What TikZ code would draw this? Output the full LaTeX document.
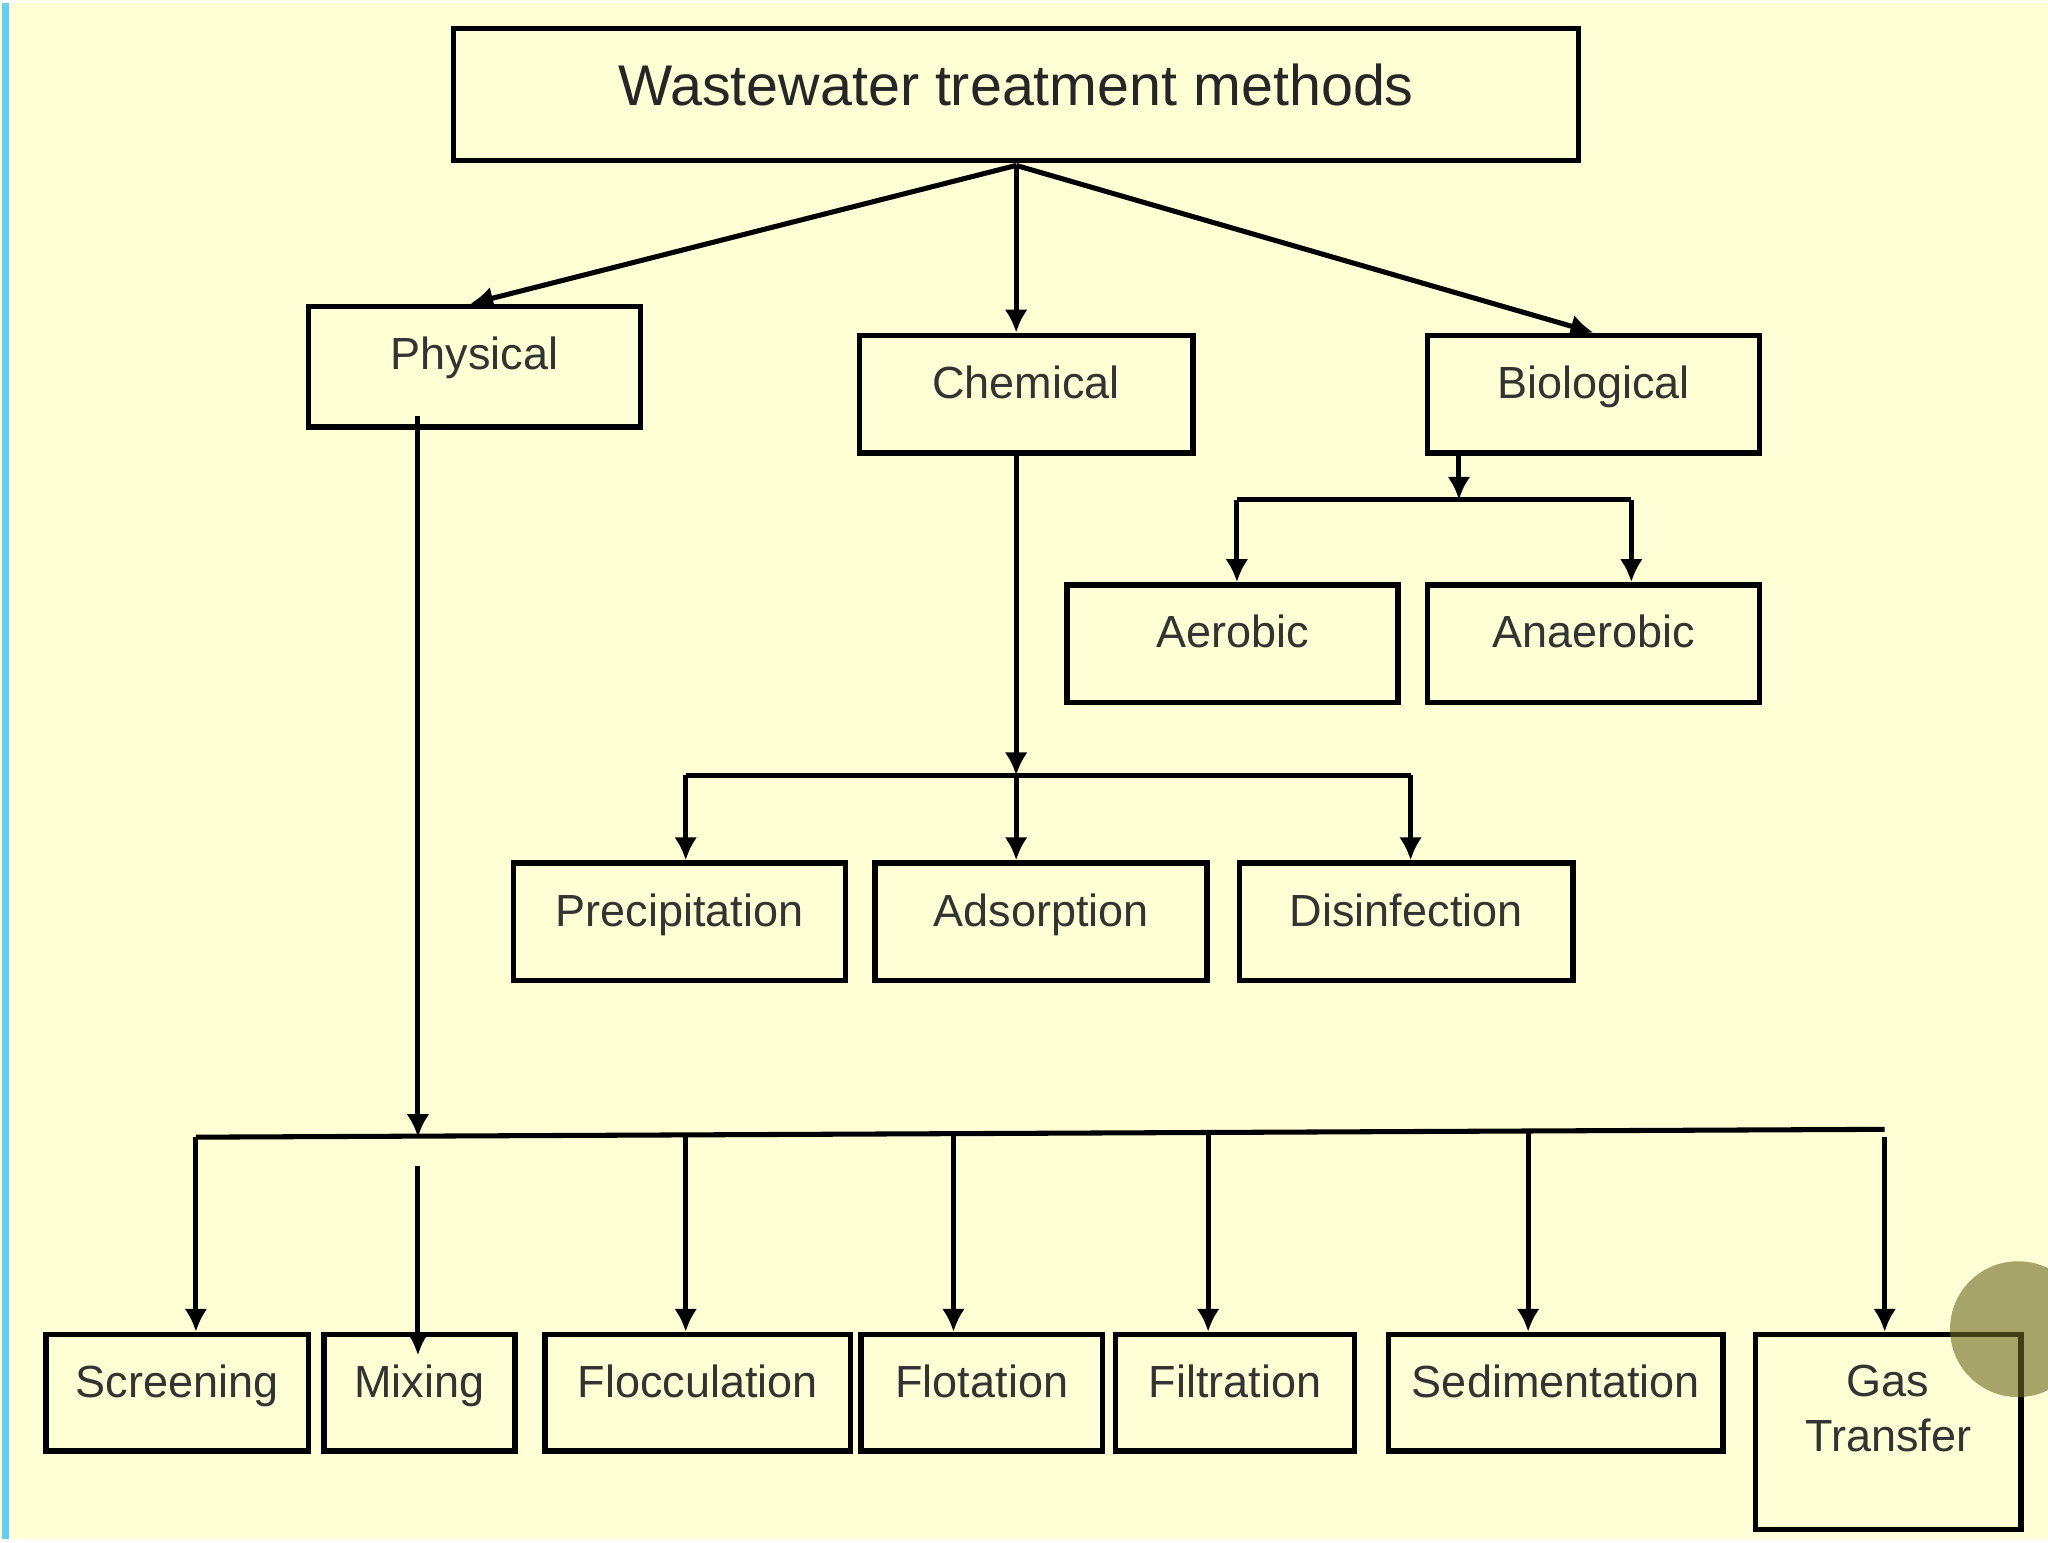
\documentclass[tikz,border=0pt]{standalone}
\usepackage{fontspec}
\setmainfont{Liberation Sans}
\usetikzlibrary{arrows.meta}
\definecolor{bgyel}{HTML}{FFFFD6}
\definecolor{txt}{HTML}{333333}
\begin{document}
\begin{tikzpicture}[x=0.01cm,y=-0.01cm,
  box/.style={draw,line width=1.2pt,anchor=north west,inner sep=0pt},
  lbl/.style={anchor=north,yshift=-0.13cm,text=txt,font=\fontsize{9.8}{12}\selectfont,align=center},
  arr/.style={line width=1.1pt,-{Latex[length=5pt,width=5pt]}},
  ln/.style={line width=1.1pt}]
\fill[bgyel] (0,0) rectangle (1568,1176);
\draw[cyan!60,line width=1.5pt] (4,0) -- (4,1176);
\useasboundingbox (0,0) rectangle (1568,1176);
% boxes
\node[box,minimum width=8.61cm,minimum height=1.01cm] (top) at (345,17) {};
\node[anchor=north,text=black!85,font=\fontsize{12.5}{15}\selectfont] at ([yshift=-0.17cm]top.north) {Wastewater treatment methods};
\newcommand{\bx}[6]{\node[box,minimum width=#4cm,minimum height=#5cm,label={[lbl]north:#6}] (#1) at (#2,#3) {};}
\bx{phys}{234}{230}{2.54}{0.92}{Physical}
\bx{chem}{656}{252}{2.55}{0.90}{Chemical}
\bx{bio}{1091}{252}{2.54}{0.90}{Biological}
\bx{aer}{815}{443}{2.53}{0.90}{Aerobic}
\bx{ana}{1091}{443}{2.54}{0.90}{Anaerobic}
\bx{prec}{391}{656}{2.54}{0.90}{Precipitation}
\bx{ads}{668}{656}{2.54}{0.90}{Adsorption}
\bx{dis}{947}{656}{2.55}{0.90}{Disinfection}
\bx{scr}{33}{1017}{2.01}{0.89}{Screening}
\bx{mix}{246}{1017}{1.46}{0.89}{Mixing}
\bx{floc}{415}{1017}{2.34}{0.89}{Flocculation}
\bx{flot}{657}{1017}{1.85}{0.89}{Flotation}
\bx{filt}{852}{1017}{1.83}{0.89}{Filtration}
\bx{sed}{1061}{1017}{2.56}{0.89}{Sedimentation}
\bx{gas}{1342}{1017}{2.03}{1.49}{Gas\\Transfer}
% junction points
\coordinate (tj) at (778,124);
\coordinate (cj) at (778,591);
\coordinate (bj) at (1117,380);
\coordinate (pj) at (320,868);
\coordinate (pl) at (150,868);
\coordinate (pr) at (1443,862);
% top level
\draw[arr] (tj) -- (360,230);
\draw[arr] (tj) -- (778,252);
\draw[arr] (tj) -- (1220,252);
% biological
\draw[arr] (1117,342) -- (bj);
\draw[ln] (947,380) -- (1249,380);
\draw[arr] (947,380) -- (947,443);
\draw[arr] (1249,380) -- (1249,443);
% chemical
\draw[arr] (778,342) -- (cj);
\draw[ln] (525,591) -- (1080,591);
\draw[arr] (525,591) -- (525,656);
\draw[arr] (cj) -- (778,656);
\draw[arr] (1080,591) -- (1080,656);
% physical
\draw[arr] (320,316) -- (pj);
\draw[ln] (pl) -- (pr);
\draw[arr] (pl) -- (150,1017);
\draw[arr] (320,890) -- (320,1035);
\draw[arr] (525,867) -- (525,1017);
\draw[arr] (730,866) -- (730,1017);
\draw[arr] (925,866) -- (925,1017);
\draw[arr] (1170,864) -- (1170,1017);
\draw[arr] (1443,868) -- (1443,1017);
% webcam overlay
\fill[olive!70!black,opacity=0.6] (1545,1015) circle (52);
\end{tikzpicture}
\end{document}
